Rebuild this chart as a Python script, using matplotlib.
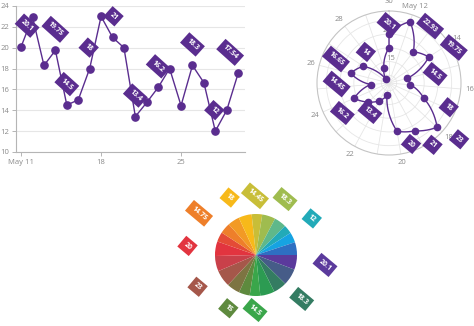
import matplotlib
matplotlib.use('Agg')
import matplotlib.pyplot as plt
import numpy as np

# ---------------- data ----------------
days = list(range(11, 31))
values = [20.1, 22.93, 18.3, 19.75, 14.5, 15, 18, 23, 21, 20,
          13.4, 14.75, 16.2, 18, 14.45, 18.3, 16.65, 12, 14, 17.54]

line_labeled_days = [11, 14, 15, 17, 19, 21, 23, 26, 28, 30]
polar_labeled_days = [11, 12, 14, 15, 17, 18, 19, 20, 21, 23, 25, 27, 29]
pie_labeled_days = [11, 13, 15, 16, 18, 20, 22, 24, 25, 26, 28]

x_tick_days = [11, 18, 25]
x_tick_labels = ['May 11', '18', '25']
y_ticks = [10, 12, 14, 16, 18, 20, 22, 24]

polar_tick_days = list(range(12, 31))
polar_tick_labels = [('May 12' if d == 12 else (str(d) if d % 2 == 0 else '')) for d in polar_tick_days]
polar_r_ticks = [12.5, 15, 17.5, 20, 22.5]
polar_r_labels = ['', '15', '', '20', '']

# ---------------- styles ----------------
PURPLE = '#5a2d8f'
GRID = '#e6e6e6'
AXIS = '#b5b5b5'
TXT = '#8a8a8a'
FONT = 'Open Sans'

pie_colors = ['#5b3a9c', '#465c88', '#347c62', '#2c9b52', '#3aa64a',
              '#5e8a3e', '#7d7442', '#a5574a', '#c9404a', '#e2343f',
              '#e44b36', '#ee7f2a', '#f29a25', '#f7b91a', '#c8be38',
              '#9fbc4f', '#5fb88a', '#22aab8', '#16a3e2', '#2e6fc2']

# label offsets (pixels) relative to points
line_label_dx = [6, 0, 0, -1, 1, 0, 0, 0, -1, -8]
line_label_dy = 21
polar_label_off = [(0, -9.5), (20, 4.6), (25, -9.5), (28, -4.4), (25, 9), (22, 12),
                   (17.6, 14), (14, 12.7), (-17, 16.5), (-26, 11), (-34, -0.5),
                   (-27.5, -7.3), (-18, -16)]
pie_label_nudge = [-2.2, -10.1, -0.4, 10.8, 6.5, -1.4, -4.6, -9.1, -2.3, 9.2, 5.6]
pie_label_dist = [69.7, 63.4, 55, 60, 66.5, 69.1, 70.6, 63.2, 59.2, 63, 66.7]

W, H = 474, 326
fig = plt.figure(figsize=(W / 100, H / 100), dpi=100)
fig.patch.set_facecolor('white')


def box(color):
    return dict(boxstyle='square,pad=0.5', fc=color, ec='none')


# ---------------- line chart ----------------
ax1 = fig.add_axes([16 / W, 1 - 152 / H, 229 / W, 146 / H])
ax1.plot(days, values, color=PURPLE, lw=1.0, marker='o', ms=5.2, zorder=3, clip_on=False)
ax1.set_xlim(10.55, 30.6)
ax1.set_ylim(10, 24)
ax1.set_yticks(y_ticks)
ax1.set_xticks(x_tick_days)
ax1.set_xticklabels(x_tick_labels)
ax1.grid(axis='y', color=GRID, lw=0.8)
ax1.set_axisbelow(True)
for s in ['top', 'right']:
    ax1.spines[s].set_visible(False)
for s in ['left', 'bottom']:
    ax1.spines[s].set_color(AXIS)
    ax1.spines[s].set_linewidth(0.8)
ax1.tick_params(labelsize=5.5, labelcolor=TXT, color=AXIS, length=3, width=0.7, pad=2)
for lab in ax1.get_xticklabels() + ax1.get_yticklabels():
    lab.set_family(FONT)
for d, dx in zip(line_labeled_days, line_label_dx):
    v = values[days.index(d)]
    ax1.annotate(f'{v:g}', xy=(d, v), xytext=(dx, line_label_dy), textcoords='offset pixels',
                 ha='center', va='center', rotation=-42, fontsize=5, color='white',
                 family=FONT, fontweight='bold', bbox=box(PURPLE), zorder=5, annotation_clip=False)

# ---------------- polar chart ----------------
R = 72
cx, cy = 389, 83
ax2 = fig.add_axes([(cx - R) / W, 1 - (cy + R) / H, 2 * R / W, 2 * R / H], projection='polar')
ax2.set_theta_zero_location('N')
ax2.set_theta_direction(-1)
n_days = days[-1] - days[0]


def th(d):
    return (d - days[0]) / n_days * 2 * np.pi


thetas = [th(d) for d in days]
ax2.set_ylim(11.1, 24.2)
ax2.set_xticks([th(d) for d in polar_tick_days])
ax2.set_xticklabels(polar_tick_labels)
ax2.set_yticks(polar_r_ticks)
ax2.set_yticklabels(polar_r_labels)
ax2.set_rlabel_position(-7)
ax2.grid(color=GRID, lw=0.6)
ax2.spines['polar'].set_color('#c4c4c4')
ax2.spines['polar'].set_linewidth(0.8)
ax2.tick_params(axis='x', labelsize=5.5, labelcolor=TXT, pad=-4)
ax2.tick_params(axis='y', labelsize=5.5, labelcolor=TXT)
for lab in ax2.get_xticklabels() + ax2.get_yticklabels():
    lab.set_family(FONT)
ln, = ax2.plot(thetas + [thetas[-1]], values + [values[0]], color=PURPLE, lw=1.0, zorder=3)
ln.get_path()._interpolation_steps = 40
ax2.plot(thetas, values, 'o', color=PURPLE, ms=4.5, zorder=4)
for d, (dx, dy) in zip(polar_labeled_days, polar_label_off):
    v = values[days.index(d)]
    ax2.annotate(f'{v:g}', xy=(th(d), v), xytext=(dx, -dy), textcoords='offset pixels',
                 ha='center', va='center', rotation=-40, fontsize=5, color='white',
                 family=FONT, fontweight='bold', bbox=box(PURPLE), zorder=6, annotation_clip=False)

# ---------------- pie chart ----------------
PR = 41
px, py = 256, 255
ax3 = fig.add_axes([(px - PR) / W, 1 - (py + PR) / H, 2 * PR / W, 2 * PR / H])
ax3.pie(values, colors=pie_colors, startangle=0, counterclock=False, radius=1,
        wedgeprops=dict(linewidth=0))
ax3.set_xlim(-1, 1)
ax3.set_ylim(-1, 1)
ax3.set_aspect('equal')
ax3.axis('off')
total = sum(values)
cum = np.cumsum([0] + values)
for d, nudge, dist in zip(pie_labeled_days, pie_label_nudge, pie_label_dist):
    i = days.index(d)
    mid_cw = (cum[i] + cum[i + 1]) / 2 / total * 360 + nudge
    a = np.deg2rad(-mid_cw)
    ax3.annotate(f'{values[i]:g}', xy=(0, 0), xytext=(dist * np.cos(a), dist * np.sin(a)),
                 textcoords='offset pixels', ha='center', va='center', rotation=-40,
                 fontsize=5, color='white', family=FONT, fontweight='bold',
                 bbox=box(pie_colors[i]), annotation_clip=False)

fig.savefig('out.png', dpi=100, facecolor='white')
